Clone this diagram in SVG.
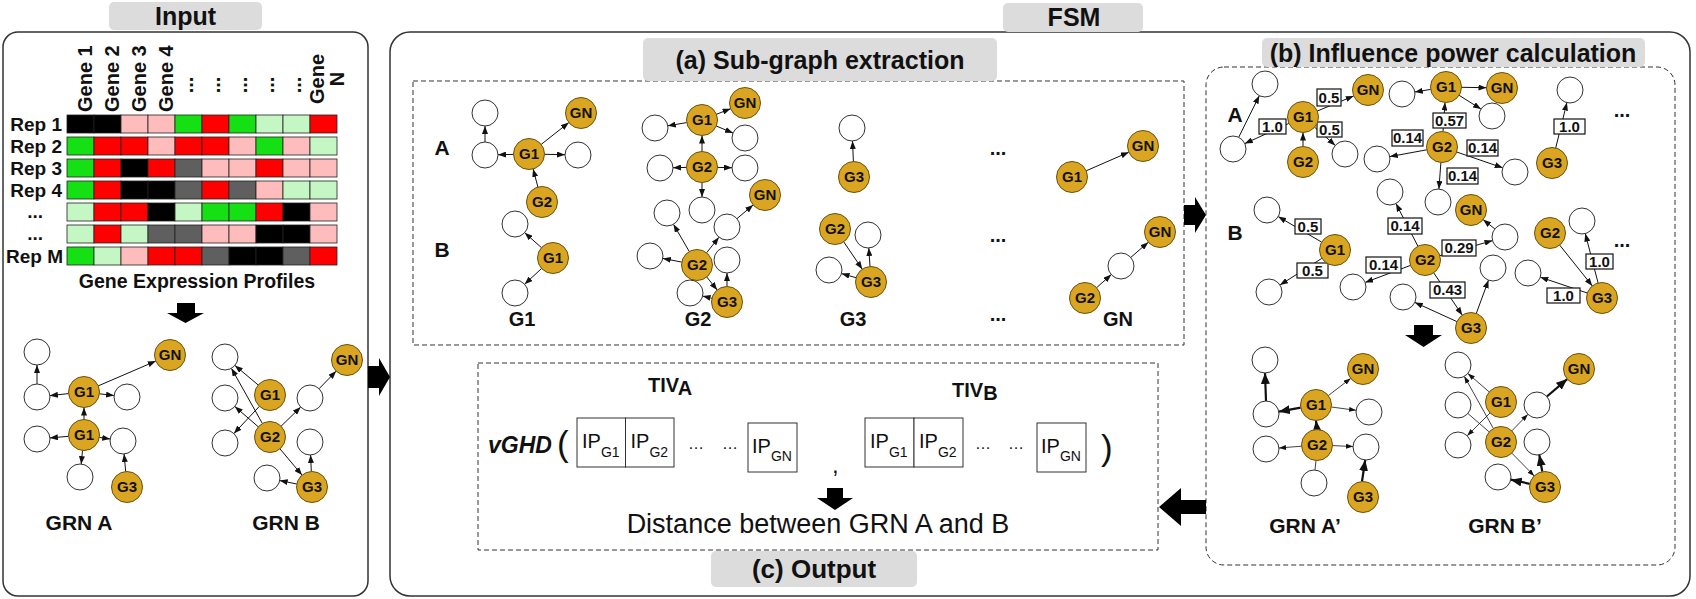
<svg xmlns="http://www.w3.org/2000/svg" width="1696" height="599" viewBox="0 0 1696 599">
<defs>
<marker id="ah" viewBox="0 0 8 6" refX="8" refY="3" markerWidth="8" markerHeight="6" markerUnits="userSpaceOnUse" orient="auto"><path d="M0,0L8,3L0,6z" fill="#111"/></marker>
<marker id="ahs" viewBox="0 0 7 5" refX="7" refY="2.5" markerWidth="7" markerHeight="5" markerUnits="userSpaceOnUse" orient="auto"><path d="M0,0L7,2.5L0,5z" fill="#111"/></marker>
<marker id="aht" viewBox="0 0 11 9" refX="11" refY="4.5" markerWidth="11" markerHeight="9" markerUnits="userSpaceOnUse" orient="auto"><path d="M0,0L11,4.5L0,9z" fill="#111"/></marker>
</defs>
<style>
text{font-family:"Liberation Sans",Arial,Helvetica,sans-serif;fill:#111}
.b{font-weight:bold}
.panel{fill:#fff;stroke:#333;stroke-width:1.5}
.dash{fill:none;stroke:#333;stroke-width:1;stroke-dasharray:5 3}
.lab{fill:#dcdcdc;stroke:none}
.ttl{font-weight:bold;font-size:25px;text-anchor:middle}
.w{fill:#fff;stroke:#333;stroke-width:1}
.g{fill:#daa520;stroke:#6b5010;stroke-width:1}
.nt{font-weight:bold;font-size:15px;text-anchor:middle}
.e{stroke:#111;stroke-width:1;marker-end:url(#ah)}
.es{stroke:#111;stroke-width:0.8;marker-end:url(#ahs)}
.et{stroke:#111;stroke-width:2.2;marker-end:url(#aht)}
.en{stroke:#111;stroke-width:0.8}
.eb{fill:#fff;stroke:#111;stroke-width:1.2}
.el{font-weight:bold;font-size:15px;text-anchor:middle}
.big{fill:#000}
.c{stroke:#222;stroke-width:0.8}
.k{fill:#000}.r{fill:#ff0000}.p{fill:#ffbcbc}.gr{fill:#14e014}.l{fill:#c4f7c4}.d{fill:#5f5f5f}
.rep{font-weight:bold;font-size:19px;text-anchor:end}
.hd{font-weight:bold;font-size:20px}
.lg{font-weight:bold;font-size:21px;text-anchor:middle}
.sl{font-weight:bold;font-size:20px;text-anchor:middle}
.ipb{fill:#fff;stroke:#333;stroke-width:1}
.ip{font-size:20px}
</style>

<!-- panels -->
<rect class="panel" x="3" y="32" width="365" height="564" rx="15"/>
<rect class="panel" x="390" y="32" width="1300" height="564" rx="20"/>
<rect class="lab" x="109" y="2" width="153" height="28" rx="5"/>
<text class="ttl" x="185.5" y="25">Input</text>
<rect class="lab" x="1003" y="3" width="140" height="29" rx="5"/>
<text class="ttl" x="1074" y="26">FSM</text>

<rect class="dash" x="413" y="81" width="771" height="264"/>
<rect class="lab" x="643" y="38" width="354" height="43" rx="5"/>
<text class="ttl" x="820" y="69">(a) Sub-graph extraction</text>

<rect class="dash" x="1206" y="67" width="469" height="498" rx="18"/>
<rect class="lab" x="1262" y="38" width="383" height="29" rx="5"/>
<text class="ttl" x="1453" y="62">(b) Influence power calculation</text>

<rect class="dash" x="478" y="363" width="680" height="187"/>
<rect class="lab" x="711" y="551" width="206" height="36" rx="5"/>
<text class="ttl" x="814" y="578" style="font-size:26px">(c) Output</text>

<!-- big arrows -->
<polygon class="big" points="368,366 379,366 379,358 390,377 379,396 379,388 368,388"/>
<polygon class="big" points="1184,205 1195,205 1195,197 1206,215 1195,233 1195,225 1184,225"/>
<polygon class="big" points="1206,500 1181,500 1181,488 1159,507 1181,526 1181,514 1206,514"/>
<polygon class="big" points="177,303 195,303 195,313 204,313 185.5,323 167,313 177,313"/>
<polygon class="big" points="1414,325 1433,325 1433,335 1442,335 1423.5,347 1405,335 1414,335"/>
<polygon class="big" points="827,488 843,488 843,498 853,498 835,510 817,498 827,498"/>

<!-- heatmap -->
<g id="heatmap">
<g class="c">
<rect class="k" x="67" y="115" width="27" height="18"/><rect class="k" x="94" y="115" width="27" height="18"/><rect class="p" x="121" y="115" width="27" height="18"/><rect class="p" x="148" y="115" width="27" height="18"/><rect class="gr" x="175" y="115" width="27" height="18"/><rect class="r" x="202" y="115" width="27" height="18"/><rect class="gr" x="229" y="115" width="27" height="18"/><rect class="l" x="256" y="115" width="27" height="18"/><rect class="l" x="283" y="115" width="27" height="18"/><rect class="r" x="310" y="115" width="27" height="18"/>
<rect class="gr" x="67" y="137" width="27" height="18"/><rect class="r" x="94" y="137" width="27" height="18"/><rect class="r" x="121" y="137" width="27" height="18"/><rect class="p" x="148" y="137" width="27" height="18"/><rect class="r" x="175" y="137" width="27" height="18"/><rect class="r" x="202" y="137" width="27" height="18"/><rect class="p" x="229" y="137" width="27" height="18"/><rect class="gr" x="256" y="137" width="27" height="18"/><rect class="p" x="283" y="137" width="27" height="18"/><rect class="l" x="310" y="137" width="27" height="18"/>
<rect class="gr" x="67" y="159" width="27" height="18"/><rect class="r" x="94" y="159" width="27" height="18"/><rect class="k" x="121" y="159" width="27" height="18"/><rect class="r" x="148" y="159" width="27" height="18"/><rect class="d" x="175" y="159" width="27" height="18"/><rect class="p" x="202" y="159" width="27" height="18"/><rect class="p" x="229" y="159" width="27" height="18"/><rect class="r" x="256" y="159" width="27" height="18"/><rect class="p" x="283" y="159" width="27" height="18"/><rect class="p" x="310" y="159" width="27" height="18"/>
<rect class="gr" x="67" y="181" width="27" height="18"/><rect class="r" x="94" y="181" width="27" height="18"/><rect class="k" x="121" y="181" width="27" height="18"/><rect class="k" x="148" y="181" width="27" height="18"/><rect class="d" x="175" y="181" width="27" height="18"/><rect class="r" x="202" y="181" width="27" height="18"/><rect class="d" x="229" y="181" width="27" height="18"/><rect class="p" x="256" y="181" width="27" height="18"/><rect class="l" x="283" y="181" width="27" height="18"/><rect class="l" x="310" y="181" width="27" height="18"/>
<rect class="l" x="67" y="203" width="27" height="18"/><rect class="r" x="94" y="203" width="27" height="18"/><rect class="r" x="121" y="203" width="27" height="18"/><rect class="k" x="148" y="203" width="27" height="18"/><rect class="l" x="175" y="203" width="27" height="18"/><rect class="gr" x="202" y="203" width="27" height="18"/><rect class="gr" x="229" y="203" width="27" height="18"/><rect class="r" x="256" y="203" width="27" height="18"/><rect class="k" x="283" y="203" width="27" height="18"/><rect class="p" x="310" y="203" width="27" height="18"/>
<rect class="l" x="67" y="225" width="27" height="18"/><rect class="r" x="94" y="225" width="27" height="18"/><rect class="l" x="121" y="225" width="27" height="18"/><rect class="d" x="148" y="225" width="27" height="18"/><rect class="d" x="175" y="225" width="27" height="18"/><rect class="p" x="202" y="225" width="27" height="18"/><rect class="p" x="229" y="225" width="27" height="18"/><rect class="k" x="256" y="225" width="27" height="18"/><rect class="k" x="283" y="225" width="27" height="18"/><rect class="p" x="310" y="225" width="27" height="18"/>
<rect class="gr" x="67" y="247" width="27" height="18"/><rect class="l" x="94" y="247" width="27" height="18"/><rect class="p" x="121" y="247" width="27" height="18"/><rect class="r" x="148" y="247" width="27" height="18"/><rect class="r" x="175" y="247" width="27" height="18"/><rect class="d" x="202" y="247" width="27" height="18"/><rect class="k" x="229" y="247" width="27" height="18"/><rect class="k" x="256" y="247" width="27" height="18"/><rect class="d" x="283" y="247" width="27" height="18"/><rect class="r" x="310" y="247" width="27" height="18"/>
</g>
<text class="rep" x="62" y="131">Rep 1</text>
<text class="rep" x="62" y="153">Rep 2</text>
<text class="rep" x="62" y="175">Rep 3</text>
<text class="rep" x="62" y="197">Rep 4</text>
<text class="rep" x="43" y="218">...</text>
<text class="rep" x="43" y="240">...</text>
<text class="rep" x="63" y="263">Rep M</text>
<text class="hd" transform="translate(91.5,112) rotate(-90)">Gene 1</text>
<text class="hd" transform="translate(118.5,112) rotate(-90)">Gene 2</text>
<text class="hd" transform="translate(145.5,112) rotate(-90)">Gene 3</text>
<text class="hd" transform="translate(172.5,112) rotate(-90)">Gene 4</text>
<text class="hd" text-anchor="middle" transform="translate(192.5,85) rotate(-90)">...</text>
<text class="hd" text-anchor="middle" transform="translate(219.5,85) rotate(-90)">...</text>
<text class="hd" text-anchor="middle" transform="translate(246.5,85) rotate(-90)">...</text>
<text class="hd" text-anchor="middle" transform="translate(273.5,85) rotate(-90)">...</text>
<text class="hd" text-anchor="middle" transform="translate(300.5,85) rotate(-90)">...</text>
<text class="hd" text-anchor="middle" transform="translate(324,79) rotate(-90)">Gene</text>
<text class="hd" text-anchor="middle" transform="translate(344,79) rotate(-90)">N</text>
<text class="b" x="197" y="288" font-size="19.5" text-anchor="middle">Gene Expression Profiles</text>
</g>

<!-- connectors -->
<g id="connectors">
<!-- input GRN A -->
<line class="e" x1="37" y1="384" x2="37" y2="365"/>
<line class="e" x1="68.6" y1="393.6" x2="49.9" y2="395.6"/>
<line class="e" x1="99.4" y1="393.8" x2="114.1" y2="395.5"/>
<line class="e" x1="98.2" y1="385.9" x2="155.8" y2="361.1"/>
<line class="e" x1="84" y1="419.5" x2="84" y2="407.5"/>
<line class="e" x1="68.6" y1="436.3" x2="49.9" y2="437.9"/>
<line class="e" x1="99.3" y1="437.4" x2="110.2" y2="439"/>
<line class="e" x1="82.5" y1="450.4" x2="81.2" y2="464.1"/>
<line class="e" x1="125.7" y1="471.6" x2="124.1" y2="454"/>
<!-- input GRN B -->
<line class="e" x1="258.2" y1="385" x2="234.9" y2="365.4"/>
<line class="e" x1="262.4" y1="423.5" x2="231.4" y2="368.3"/>
<line class="e" x1="258.3" y1="426.8" x2="234.8" y2="406.5"/>
<line class="e" x1="259.4" y1="406.3" x2="233.9" y2="433.5"/>
<line class="e" x1="281.1" y1="426.2" x2="300.7" y2="407.1"/>
<line class="e" x1="319.1" y1="388.7" x2="336.2" y2="371.1"/>
<line class="e" x1="280" y1="448.9" x2="302" y2="475.1"/>
<line class="e" x1="311.3" y1="471.5" x2="310.6" y2="455"/>
<line class="e" x1="296.8" y1="484" x2="279.7" y2="480.5"/>
<!-- (a) G1 -->
<line class="e" x1="485" y1="142" x2="485" y2="126"/>
<line class="e" x1="513.5" y1="154.4" x2="498" y2="154.7"/>
<line class="e" x1="544.5" y1="154.3" x2="565" y2="154.7"/>
<line class="e" x1="541.2" y1="144.4" x2="568.8" y2="122.6"/>
<line class="e" x1="537.9" y1="187" x2="533.1" y2="169"/>
<line class="e" x1="541.5" y1="247.7" x2="524.7" y2="232.7"/>
<line class="e" x1="541.6" y1="268.5" x2="524.6" y2="284.2"/>
<!-- (a) G2 -->
<line class="e" x1="686.7" y1="122.6" x2="667.8" y2="125.8"/>
<line class="e" x1="716.4" y1="114.3" x2="730.6" y2="108.7"/>
<line class="e" x1="716.3" y1="126" x2="733" y2="133"/>
<line class="e" x1="702" y1="151.5" x2="702" y2="135.5"/>
<line class="e" x1="686.5" y1="167.4" x2="673" y2="167.7"/>
<line class="e" x1="717.5" y1="167.4" x2="732" y2="167.7"/>
<line class="e" x1="702" y1="182.5" x2="702" y2="197"/>
<line class="e" x1="689.3" y1="251.6" x2="673.5" y2="224.3"/>
<line class="e" x1="681.8" y1="262.1" x2="662.8" y2="258.4"/>
<line class="e" x1="706.6" y1="252.8" x2="718.9" y2="237.2"/>
<line class="e" x1="737" y1="218.6" x2="753.1" y2="205"/>
<line class="e" x1="706.8" y1="277" x2="717.2" y2="290"/>
<line class="e" x1="727" y1="286.5" x2="727" y2="273"/>
<line class="e" x1="712" y1="298.3" x2="702.6" y2="296.1"/>
<!-- (a) G3 -->
<line class="e" x1="853.4" y1="161.5" x2="852.5" y2="141"/>
<line class="e" x1="843.7" y1="241.8" x2="862.3" y2="269.2"/>
<line class="e" x1="870" y1="266.5" x2="868.8" y2="248"/>
<line class="e" x1="856.1" y1="277.7" x2="841.5" y2="273.6"/>
<!-- (a) GN -->
<line class="e" x1="1086.2" y1="170.8" x2="1128.8" y2="152.2"/>
<line class="e" x1="1096.6" y1="287.7" x2="1111.3" y2="274.6"/>
<line class="e" x1="1130.8" y1="257.4" x2="1148.3" y2="242.2"/>
<!-- (b) A row -->
<line class="e" x1="1238.7" y1="137.3" x2="1259.3" y2="95.7"/>
<line class="e" x1="1288.9" y1="123.4" x2="1244.8" y2="143.6"/>
<line class="e" x1="1317.3" y1="111" x2="1353.7" y2="96"/>
<line class="e" x1="1314.6" y1="127.2" x2="1335.3" y2="145.4"/>
<line class="e" x1="1303" y1="146.5" x2="1303" y2="132.5"/>
<line class="e" x1="1430.7" y1="89.4" x2="1414.8" y2="92"/>
<line class="e" x1="1461.5" y1="87.3" x2="1486.5" y2="87.7"/>
<line class="e" x1="1459.1" y1="95.3" x2="1481" y2="109.1"/>
<line class="e" x1="1443" y1="131.5" x2="1445" y2="102.5"/>
<line class="e" x1="1426.8" y1="149.8" x2="1389.8" y2="156.6"/>
<line class="e" x1="1456.7" y1="152" x2="1502.7" y2="167.8"/>
<line class="e" x1="1440.9" y1="162.5" x2="1438.9" y2="189"/>
<line class="e" x1="1555.7" y1="148" x2="1566.9" y2="102.6"/>
<!-- (b) B row -->
<line class="e" x1="1321.6" y1="242.1" x2="1278.2" y2="216.6"/>
<line class="e" x1="1321.9" y1="258.3" x2="1280" y2="285"/>
<line class="e" x1="1417.9" y1="246.2" x2="1396" y2="203.6"/>
<line class="e" x1="1410.5" y1="265.4" x2="1365.2" y2="282.4"/>
<line class="e" x1="1439.9" y1="255.7" x2="1492.5" y2="240.6"/>
<line class="e" x1="1494.8" y1="228.9" x2="1483.1" y2="219.6"/>
<line class="e" x1="1433.7" y1="272.8" x2="1462.3" y2="315.2"/>
<line class="e" x1="1476.3" y1="313.4" x2="1488.5" y2="280.2"/>
<line class="e" x1="1456.9" y1="321.6" x2="1414.8" y2="302.4"/>
<line class="e" x1="1559.7" y1="245.1" x2="1592.3" y2="285.9"/>
<line class="e" x1="1598.1" y1="283" x2="1585.3" y2="233.6"/>
<line class="e" x1="1587.3" y1="293" x2="1540.3" y2="277.2"/>
<!-- GRN A' -->
<line class="et" x1="1266" y1="401" x2="1265" y2="373"/>
<line class="et" x1="1300.7" y1="407.7" x2="1278.8" y2="411.7"/>
<line class="es" x1="1331.4" y1="407" x2="1356.1" y2="410.3"/>
<line class="es" x1="1328.3" y1="395.6" x2="1350.7" y2="378.4"/>
<line class="et" x1="1317" y1="429.5" x2="1316" y2="420.5"/>
<line class="es" x1="1301.5" y1="446.2" x2="1279" y2="448"/>
<line class="es" x1="1332.5" y1="445.6" x2="1353" y2="446.5"/>
<line class="en" x1="1316" y1="460.5" x2="1315" y2="470"/>
<line class="et" x1="1362" y1="481.5" x2="1365.2" y2="460"/>
<!-- GRN B' -->
<line class="es" x1="1489.2" y1="391.9" x2="1467.9" y2="373.5"/>
<line class="es" x1="1493.4" y1="428.5" x2="1464.3" y2="376.3"/>
<line class="en" x1="1489.2" y1="431.9" x2="1467.9" y2="413.5"/>
<line class="es" x1="1490" y1="413" x2="1467.2" y2="435.8"/>
<line class="es" x1="1511.8" y1="430.9" x2="1527.9" y2="414.3"/>
<line class="et" x1="1546.9" y1="396.5" x2="1567.2" y2="379.1"/>
<line class="es" x1="1511.8" y1="453.1" x2="1534.2" y2="475.9"/>
<line class="et" x1="1542.3" y1="471.7" x2="1539.3" y2="454.8"/>
<line class="et" x1="1529.8" y1="483.8" x2="1510.7" y2="479.7"/>
<!-- edge labels -->
<rect class="eb" x="1259" y="119" width="27" height="15"/><text class="el" x="1272.5" y="131.5">1.0</text>
<rect class="eb" x="1317" y="89" width="24" height="17"/><text class="el" x="1329" y="103">0.5</text>
<rect class="eb" x="1317" y="122" width="25" height="15"/><text class="el" x="1329.5" y="134.5">0.5</text>
<rect class="eb" x="1433" y="113" width="33" height="15"/><text class="el" x="1449.5" y="125.5">0.57</text>
<rect class="eb" x="1392" y="130" width="31" height="16"/><text class="el" x="1407.5" y="143">0.14</text>
<rect class="eb" x="1467" y="140" width="31" height="16"/><text class="el" x="1482.5" y="153">0.14</text>
<rect class="eb" x="1447" y="168" width="31" height="16"/><text class="el" x="1462.5" y="181">0.14</text>
<rect class="eb" x="1554" y="119" width="31" height="15"/><text class="el" x="1569.5" y="131.5">1.0</text>
<rect class="eb" x="1295" y="219" width="26" height="15"/><text class="el" x="1308" y="231.5">0.5</text>
<rect class="eb" x="1297" y="263" width="31" height="15"/><text class="el" x="1312.5" y="275.5">0.5</text>
<rect class="eb" x="1388" y="218" width="34" height="16"/><text class="el" x="1405" y="231">0.14</text>
<rect class="eb" x="1366" y="257" width="35" height="16"/><text class="el" x="1383.5" y="270">0.14</text>
<rect class="eb" x="1442" y="240" width="34" height="16"/><text class="el" x="1459" y="253">0.29</text>
<rect class="eb" x="1430" y="282" width="35" height="16"/><text class="el" x="1447.5" y="295">0.43</text>
<rect class="eb" x="1586" y="254" width="27" height="15"/><text class="el" x="1599.5" y="266.5">1.0</text>
<rect class="eb" x="1547" y="288" width="33" height="15"/><text class="el" x="1563.5" y="300.5">1.0</text>
</g>

<!-- input GRN A nodes -->
<g id="inA-w1"><circle class="w" cx="37" cy="352" r="13"/></g>
<g id="inA-w2"><circle class="w" cx="37" cy="397" r="13"/></g>
<g id="inA-g1a"><circle class="g" cx="84" cy="392" r="15.5"/><text class="nt" x="84" y="397">G1</text></g>
<g id="inA-w3"><circle class="w" cx="127" cy="397" r="13"/></g>
<g id="inA-gn"><circle class="g" cx="170" cy="355" r="15.5"/><text class="nt" x="170" y="360">GN</text></g>
<g id="inA-w4"><circle class="w" cx="37" cy="439" r="13"/></g>
<g id="inA-g1b"><circle class="g" cx="84" cy="435" r="15.5"/><text class="nt" x="84" y="440">G1</text></g>
<g id="inA-w5"><circle class="w" cx="123" cy="441" r="13"/></g>
<g id="inA-w6"><circle class="w" cx="80" cy="477" r="13"/></g>
<g id="inA-g3"><circle class="g" cx="127" cy="487" r="15.5"/><text class="nt" x="127" y="492">G3</text></g>
<text class="lg" x="79" y="530">GRN A</text>
<!-- input GRN B nodes -->
<g id="inB-w1"><circle class="w" cx="225" cy="357" r="13"/></g>
<g id="inB-g1"><circle class="g" cx="270" cy="395" r="15.5"/><text class="nt" x="270" y="400">G1</text></g>
<g id="inB-w2"><circle class="w" cx="225" cy="398" r="13"/></g>
<g id="inB-w3"><circle class="w" cx="310" cy="398" r="13"/></g>
<g id="inB-gn"><circle class="g" cx="347" cy="360" r="15.5"/><text class="nt" x="347" y="365">GN</text></g>
<g id="inB-w4"><circle class="w" cx="225" cy="443" r="13"/></g>
<g id="inB-g2"><circle class="g" cx="270" cy="437" r="15.5"/><text class="nt" x="270" y="442">G2</text></g>
<g id="inB-w5"><circle class="w" cx="310" cy="442" r="13"/></g>
<g id="inB-w6"><circle class="w" cx="267" cy="478" r="13"/></g>
<g id="inB-g3"><circle class="g" cx="312" cy="487" r="15.5"/><text class="nt" x="312" y="492">G3</text></g>
<text class="lg" x="286" y="530">GRN B</text>

<!-- (a) nodes -->
<text class="lg" x="442" y="155">A</text>
<text class="lg" x="442" y="257">B</text>
<g id="a1-w1"><circle class="w" cx="485" cy="113" r="13"/></g>
<g id="a1-w2"><circle class="w" cx="485" cy="155" r="13"/></g>
<g id="a1-g1"><circle class="g" cx="529" cy="154" r="15.5"/><text class="nt" x="529" y="159">G1</text></g>
<g id="a1-w3"><circle class="w" cx="578" cy="155" r="13"/></g>
<g id="a1-gn"><circle class="g" cx="581" cy="113" r="15.5"/><text class="nt" x="581" y="118">GN</text></g>
<g id="a1-g2"><circle class="g" cx="542" cy="202" r="15.5"/><text class="nt" x="542" y="207">G2</text></g>
<g id="a1-w4"><circle class="w" cx="515" cy="224" r="13"/></g>
<g id="a1-g1b"><circle class="g" cx="553" cy="258" r="15.5"/><text class="nt" x="553" y="263">G1</text></g>
<g id="a1-w5"><circle class="w" cx="515" cy="293" r="13"/></g>
<text class="sl" x="522" y="326">G1</text>

<g id="a2-g1"><circle class="g" cx="702" cy="120" r="15.5"/><text class="nt" x="702" y="125">G1</text></g>
<g id="a2-w1"><circle class="w" cx="655" cy="128" r="13"/></g>
<g id="a2-gn"><circle class="g" cx="745" cy="103" r="15.5"/><text class="nt" x="745" y="108">GN</text></g>
<g id="a2-w2"><circle class="w" cx="745" cy="138" r="13"/></g>
<g id="a2-g2"><circle class="g" cx="702" cy="167" r="15.5"/><text class="nt" x="702" y="172">G2</text></g>
<g id="a2-w3"><circle class="w" cx="660" cy="168" r="13"/></g>
<g id="a2-w4"><circle class="w" cx="745" cy="168" r="13"/></g>
<g id="a2-w5"><circle class="w" cx="702" cy="210" r="13"/></g>
<g id="a2-w6"><circle class="w" cx="667" cy="213" r="13"/></g>
<g id="a2-w7"><circle class="w" cx="727" cy="227" r="13"/></g>
<g id="a2-gn2"><circle class="g" cx="765" cy="195" r="15.5"/><text class="nt" x="765" y="200">GN</text></g>
<g id="a2-w8"><circle class="w" cx="650" cy="256" r="13"/></g>
<g id="a2-g2b"><circle class="g" cx="697" cy="265" r="15.5"/><text class="nt" x="697" y="270">G2</text></g>
<g id="a2-w9"><circle class="w" cx="727" cy="260" r="13"/></g>
<g id="a2-w10"><circle class="w" cx="690" cy="293" r="13"/></g>
<g id="a2-g3"><circle class="g" cx="727" cy="302" r="15.5"/><text class="nt" x="727" y="307">G3</text></g>
<text class="sl" x="698" y="326">G2</text>

<g id="a3-w1"><circle class="w" cx="852" cy="128" r="13"/></g>
<g id="a3-g3"><circle class="g" cx="854" cy="177" r="15.5"/><text class="nt" x="854" y="182">G3</text></g>
<g id="a3-g2"><circle class="g" cx="835" cy="229" r="15.5"/><text class="nt" x="835" y="234">G2</text></g>
<g id="a3-w2"><circle class="w" cx="868" cy="235" r="13"/></g>
<g id="a3-w3"><circle class="w" cx="829" cy="270" r="13"/></g>
<g id="a3-g3b"><circle class="g" cx="871" cy="282" r="15.5"/><text class="nt" x="871" y="287">G3</text></g>
<text class="sl" x="853" y="326">G3</text>

<text class="sl" x="998" y="155">...</text>
<text class="sl" x="998" y="242">...</text>
<text class="sl" x="998" y="321">...</text>

<g id="a4-g1"><circle class="g" cx="1072" cy="177" r="15.5"/><text class="nt" x="1072" y="182">G1</text></g>
<g id="a4-gn"><circle class="g" cx="1143" cy="146" r="15.5"/><text class="nt" x="1143" y="151">GN</text></g>
<g id="a4-w1"><circle class="w" cx="1121" cy="266" r="13"/></g>
<g id="a4-gn2"><circle class="g" cx="1160" cy="232" r="15.5"/><text class="nt" x="1160" y="237">GN</text></g>
<g id="a4-g2"><circle class="g" cx="1085" cy="298" r="15.5"/><text class="nt" x="1085" y="303">G2</text></g>
<text class="sl" x="1118" y="326">GN</text>

<!-- (b) nodes -->
<text class="lg" x="1235" y="122">A</text>
<text class="lg" x="1235" y="240">B</text>
<g id="bA-w1"><circle class="w" cx="1265" cy="84" r="13"/></g>
<g id="bA-w2"><circle class="w" cx="1233" cy="149" r="13"/></g>
<g id="bA-g1"><circle class="g" cx="1303" cy="117" r="15.5"/><text class="nt" x="1303" y="122">G1</text></g>
<g id="bA-g2"><circle class="g" cx="1303" cy="162" r="15.5"/><text class="nt" x="1303" y="167">G2</text></g>
<g id="bA-gn"><circle class="g" cx="1368" cy="90" r="15.5"/><text class="nt" x="1368" y="95">GN</text></g>
<g id="bA-w3"><circle class="w" cx="1345" cy="154" r="13"/></g>
<g id="bA-w4"><circle class="w" cx="1402" cy="94" r="13"/></g>
<g id="bA-g1m"><circle class="g" cx="1446" cy="87" r="15.5"/><text class="nt" x="1446" y="92">G1</text></g>
<g id="bA-gnm"><circle class="g" cx="1502" cy="88" r="15.5"/><text class="nt" x="1502" y="93">GN</text></g>
<g id="bA-w5"><circle class="w" cx="1492" cy="116" r="13"/></g>
<g id="bA-g2m"><circle class="g" cx="1442" cy="147" r="15.5"/><text class="nt" x="1442" y="152">G2</text></g>
<g id="bA-w6"><circle class="w" cx="1377" cy="159" r="13"/></g>
<g id="bA-w7"><circle class="w" cx="1515" cy="172" r="13"/></g>
<g id="bA-w8"><circle class="w" cx="1438" cy="202" r="13"/></g>
<g id="bA-w9"><circle class="w" cx="1570" cy="90" r="13"/></g>
<g id="bA-g3"><circle class="g" cx="1552" cy="163" r="15.5"/><text class="nt" x="1552" y="168">G3</text></g>
<text class="sl" x="1622" y="117">...</text>

<g id="bB-w1"><circle class="w" cx="1267" cy="210" r="13"/></g>
<g id="bB-g1"><circle class="g" cx="1335" cy="250" r="15.5"/><text class="nt" x="1335" y="255">G1</text></g>
<g id="bB-w2"><circle class="w" cx="1269" cy="292" r="13"/></g>
<g id="bB-w3"><circle class="w" cx="1390" cy="192" r="13"/></g>
<g id="bB-g2"><circle class="g" cx="1425" cy="260" r="15.5"/><text class="nt" x="1425" y="265">G2</text></g>
<g id="bB-w4"><circle class="w" cx="1353" cy="287" r="13"/></g>
<g id="bB-w5"><circle class="w" cx="1505" cy="237" r="13"/></g>
<g id="bB-gn"><circle class="g" cx="1471" cy="210" r="15.5"/><text class="nt" x="1471" y="215">GN</text></g>
<g id="bB-g3"><circle class="g" cx="1471" cy="328" r="15.5"/><text class="nt" x="1471" y="333">G3</text></g>
<g id="bB-w6"><circle class="w" cx="1493" cy="268" r="13"/></g>
<g id="bB-w7"><circle class="w" cx="1403" cy="297" r="13"/></g>
<g id="bB-g2r"><circle class="g" cx="1550" cy="233" r="15.5"/><text class="nt" x="1550" y="238">G2</text></g>
<g id="bB-w8"><circle class="w" cx="1582" cy="221" r="13"/></g>
<g id="bB-w9"><circle class="w" cx="1528" cy="273" r="13"/></g>
<g id="bB-g3r"><circle class="g" cx="1602" cy="298" r="15.5"/><text class="nt" x="1602" y="303">G3</text></g>
<text class="sl" x="1622" y="247">...</text>

<!-- GRN A' -->
<g id="ap-w1"><circle class="w" cx="1265" cy="360" r="13"/></g>
<g id="ap-w2"><circle class="w" cx="1266" cy="414" r="13"/></g>
<g id="ap-g1"><circle class="g" cx="1316" cy="405" r="15.5"/><text class="nt" x="1316" y="410">G1</text></g>
<g id="ap-gn"><circle class="g" cx="1363" cy="369" r="15.5"/><text class="nt" x="1363" y="374">GN</text></g>
<g id="ap-w3"><circle class="w" cx="1369" cy="412" r="13"/></g>
<g id="ap-w4"><circle class="w" cx="1266" cy="449" r="13"/></g>
<g id="ap-g2"><circle class="g" cx="1317" cy="445" r="15.5"/><text class="nt" x="1317" y="450">G2</text></g>
<g id="ap-w5"><circle class="w" cx="1366" cy="447" r="13"/></g>
<g id="ap-w6"><circle class="w" cx="1314" cy="483" r="13"/></g>
<g id="ap-g3"><circle class="g" cx="1363" cy="497" r="15.5"/><text class="nt" x="1363" y="502">G3</text></g>
<text class="lg" x="1305" y="533">GRN A&#8217;</text>
<!-- GRN B' -->
<g id="bp-w1"><circle class="w" cx="1458" cy="365" r="13"/></g>
<g id="bp-g1"><circle class="g" cx="1501" cy="402" r="15.5"/><text class="nt" x="1501" y="407">G1</text></g>
<g id="bp-w2"><circle class="w" cx="1458" cy="405" r="13"/></g>
<g id="bp-w3"><circle class="w" cx="1537" cy="405" r="13"/></g>
<g id="bp-gn"><circle class="g" cx="1579" cy="369" r="15.5"/><text class="nt" x="1579" y="374">GN</text></g>
<g id="bp-w4"><circle class="w" cx="1458" cy="445" r="13"/></g>
<g id="bp-g2"><circle class="g" cx="1501" cy="442" r="15.5"/><text class="nt" x="1501" y="447">G2</text></g>
<g id="bp-w5"><circle class="w" cx="1537" cy="442" r="13"/></g>
<g id="bp-w6"><circle class="w" cx="1498" cy="477" r="13"/></g>
<g id="bp-g3"><circle class="g" cx="1545" cy="487" r="15.5"/><text class="nt" x="1545" y="492">G3</text></g>
<text class="lg" x="1505" y="533">GRN B&#8217;</text>

<!-- (c) output -->
<g id="output">
<text class="b" x="648" y="392" font-size="20">TIV<tspan dy="3">A</tspan></text>
<text class="b" x="952" y="397" font-size="20">TIV<tspan dy="3">B</tspan></text>
<text x="488" y="453" font-size="23" font-weight="bold" font-style="italic">vGHD</text>
<text x="557" y="456" font-size="35">(</text>
<text x="1101" y="460" font-size="35">)</text>
<rect class="ipb" x="577" y="418" width="48.5" height="49"/>
<rect class="ipb" x="625.5" y="418" width="48.5" height="49"/>
<rect class="ipb" x="748" y="423" width="49" height="49"/>
<rect class="ipb" x="865" y="418" width="49" height="49"/>
<rect class="ipb" x="914" y="418" width="49" height="49"/>
<rect class="ipb" x="1037" y="423" width="49" height="49"/>
<text class="ip" x="582" y="448">IP<tspan dy="9" font-size="14">G1</tspan></text>
<text class="ip" x="630.5" y="448">IP<tspan dy="9" font-size="14">G2</tspan></text>
<text class="ip" x="752" y="453">IP<tspan dy="8" font-size="14">GN</tspan></text>
<text class="ip" x="870" y="448">IP<tspan dy="9" font-size="14">G1</tspan></text>
<text class="ip" x="919" y="448">IP<tspan dy="9" font-size="14">G2</tspan></text>
<text class="ip" x="1041" y="453">IP<tspan dy="8" font-size="14">GN</tspan></text>
<text x="688" y="449" font-size="16">…</text>
<text x="722" y="449" font-size="16">…</text>
<text x="975" y="449" font-size="16">…</text>
<text x="1008" y="449" font-size="16">…</text>
<text x="832" y="473" font-size="24">,</text>
<text x="818" y="533" font-size="27" text-anchor="middle">Distance between GRN A and B</text>
</g>
</svg>
